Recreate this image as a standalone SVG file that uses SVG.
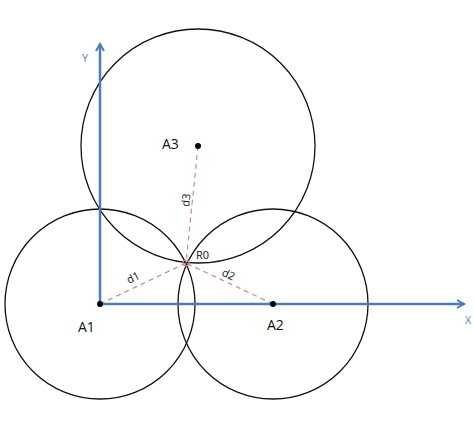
<svg xmlns="http://www.w3.org/2000/svg" width="474" height="425" viewBox="0 0 474 425">
<defs>
<style>
.c{fill:none;stroke:#111;stroke-width:1.3}
.ax{stroke:#4a7ebb;stroke-width:2.5;fill:none}
.d{stroke:#c98a8a;stroke-width:1.2;stroke-dasharray:5,4;fill:none}
.t{font-family:"Open Sans","Liberation Sans",sans-serif;fill:#111}
.at{font-family:"Open Sans","Liberation Sans",sans-serif;fill:#5a86c0;font-size:11px}
.pt{fill:#000}
</style>
<marker id="ah" viewBox="0 0 10 10" refX="8" refY="5" markerWidth="4" markerHeight="4" orient="auto" markerUnits="strokeWidth">
<path d="M1,1 L8,5 L1,9" fill="none" stroke="#4a7ebb" stroke-width="2"/>
</marker>
</defs>
<rect width="474" height="425" fill="#fff"/>
<g id="circles">
<circle id="circle-a1" class="c" cx="100" cy="304" r="95"/>
<circle id="circle-a2" class="c" cx="273" cy="304" r="95"/>
<circle id="circle-a3" class="c" cx="198" cy="146" r="117"/>
</g>
<g id="axes">
<line class="ax" x1="100" y1="305" x2="100" y2="44" marker-end="url(#ah)"/>
<line class="ax" x1="99" y1="304" x2="464" y2="304" marker-end="url(#ah)"/>
<text class="at" x="82" y="62">Y</text>
<text class="at" x="465" y="324">X</text>
</g>
<g id="connectors">
<line class="d" x1="100" y1="304" x2="186" y2="263"/>
<line class="d" x1="273" y1="304" x2="186" y2="263"/>
<line class="d" x1="198" y1="146" x2="186" y2="263"/>
<text class="t" font-size="11" transform="translate(129,284) rotate(-27)">d1</text>
<text class="t" font-size="11" transform="translate(221,275) rotate(26)">d2</text>
<text class="t" font-size="11" transform="translate(189,207) rotate(-84)">d3</text>
</g>
<g id="A1">
<circle class="pt" cx="100" cy="304" r="3"/>
<text class="t" font-size="14" x="78" y="332">A1</text>
</g>
<g id="A2">
<circle class="pt" cx="273" cy="304" r="3"/>
<text class="t" font-size="14" x="267" y="330">A2</text>
</g>
<g id="A3">
<circle class="pt" cx="198" cy="146" r="3"/>
<text class="t" font-size="14" x="162" y="149">A3</text>
</g>
<g id="R0">
<circle cx="186" cy="263" r="3" fill="none" stroke="#c98a8a" stroke-width="1.2"/>
<text class="t" font-size="11" x="196" y="259">R0</text>
</g>
</svg>
